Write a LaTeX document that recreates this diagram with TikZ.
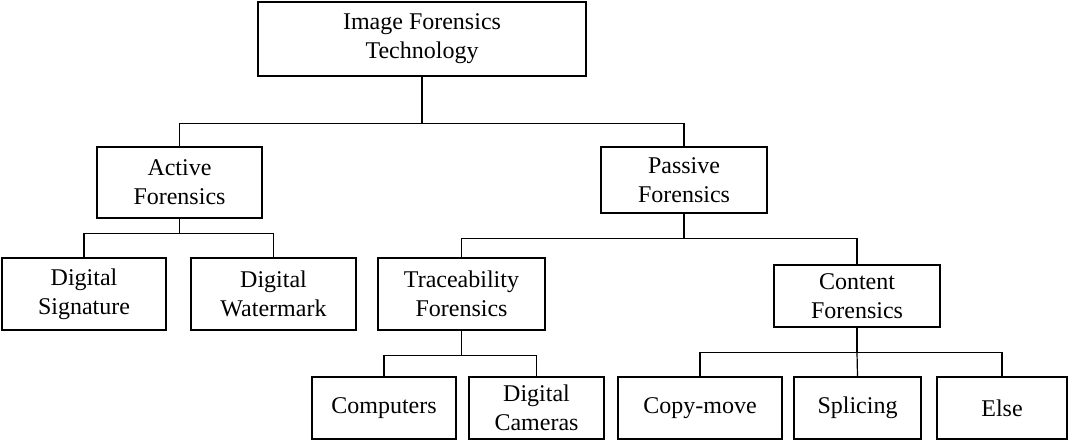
\documentclass[tikz,border=0pt]{standalone}
\usepackage{fontspec}
\setmainfont{Liberation Serif}
\begin{document}
\begin{tikzpicture}[x=1pt,y=-1pt,
  bx/.style={draw,line width=1.2pt,align=center,inner sep=0pt,font=\fontsize{24}{29}\selectfont},
  ln/.style={line width=1.2pt}]
\useasboundingbox (0,0) rectangle (1070,443);
\node[bx,minimum width=328,minimum height=74] (root) at (422,39) {Image Forensics\\Technology};
\node[bx,minimum width=165,minimum height=71] (act) at (179.5,182.5) {Active\\Forensics};
\node[bx,minimum width=166,minimum height=66] (pas) at (684,180) {Passive\\Forensics};
\node[bx,minimum width=164,minimum height=72] (sig) at (84,294) {Digital\\Signature};
\node[bx,minimum width=165,minimum height=72] (wat) at (273.5,294) {Digital\\Watermark};
\node[bx,minimum width=167,minimum height=72] (tra) at (461.5,294) {Traceability\\Forensics};
\node[bx,minimum width=166,minimum height=62] (con) at (857,296) {Content\\Forensics};
\node[bx,minimum width=144,minimum height=62] (cmp) at (384,408) {Computers};
\node[bx,minimum width=135,minimum height=62] (cam) at (536.5,408) {Digital\\Cameras};
\node[bx,minimum width=164,minimum height=62] (cop) at (700,408) {Copy-move};
\node[bx,minimum width=127,minimum height=62] (spl) at (857.5,408) {Splicing};
\node[bx,minimum width=130,minimum height=62] (els) at (1002,408) {Else};
\draw[ln] (root.south) -- ++(0,47) coordinate (j1);
\draw[ln] (act.north) |- (j1) -| (pas.north);
\draw[ln] (act.south) -- ++(0,15) coordinate (j2);
\draw[ln] (sig.north) |- (j2) -| (wat.north);
\draw[ln] (pas.south) -- ++(0,25) coordinate (j3);
\draw[ln] (tra.north) |- (j3) -| (con.north);
\draw[ln] (tra.south) -- ++(0,25) coordinate (j4);
\draw[ln] (cmp.north) |- (j4) -| (cam.north);
\draw[ln] (con.south) -- ++(0,25) coordinate (j5);
\draw[ln] (cop.north) |- (j5) -| (els.north);
\draw[ln] (j5) -- (spl.north);
\end{tikzpicture}
\end{document}
